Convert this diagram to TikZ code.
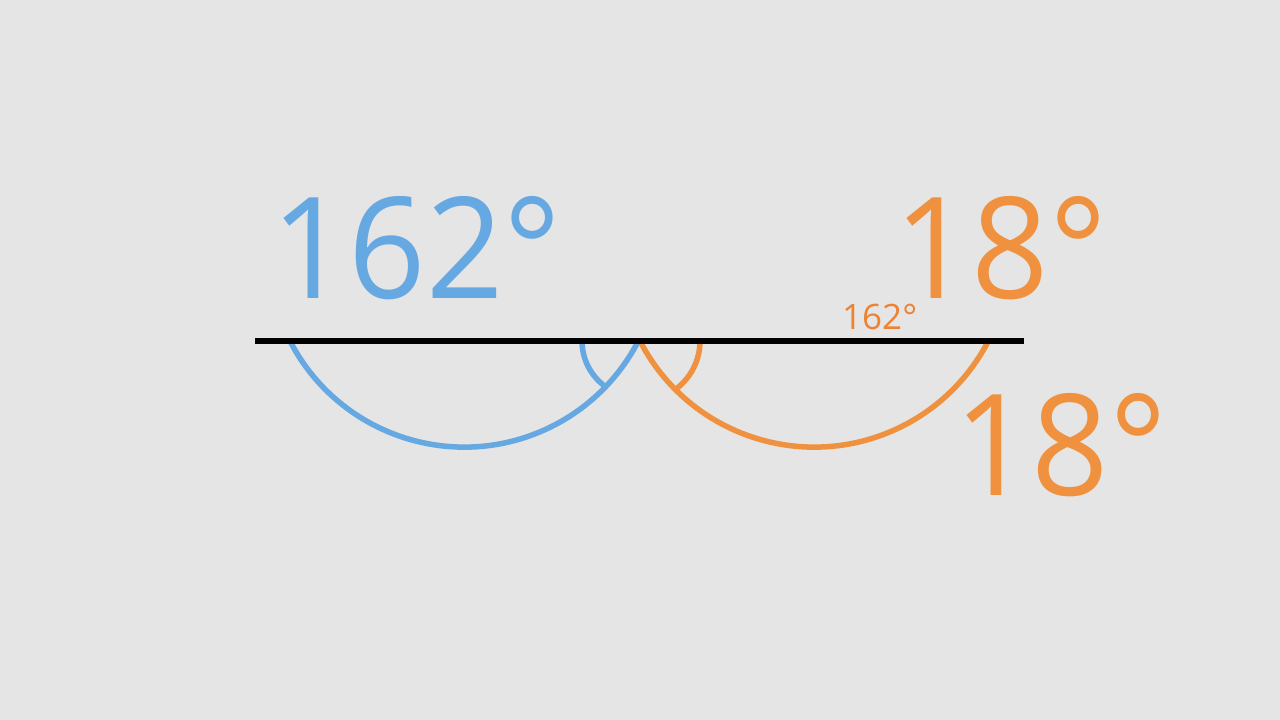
\documentclass[tikz,border=0pt]{standalone}
\usepackage{fontspec}
\setmainfont{Open Sans}
\definecolor{bg}{HTML}{E4E5E4}
\definecolor{blu}{HTML}{66A8E2}
\definecolor{org}{HTML}{F0913F}
\definecolor{org2}{HTML}{EC8232}
\tikzset{
  bigtxt/.style={inner sep=0pt, anchor=base west, xscale=0.96, font=\fontsize{141}{145}\selectfont},
  smalltxt/.style={inner sep=0pt, anchor=base west, font=\fontsize{35}{40}\selectfont},
  arcline/.style={line width=5.5pt}
}
\begin{document}
\begin{tikzpicture}[x=1pt,y=-1pt]
\fill[bg] (0,0) rectangle (1280,720);
\useasboundingbox (0,0) rectangle (1280,720);
% angle vertices
\coordinate (L) at (255,341);
\coordinate (R) at (1024,341);
\coordinate (V1) at (638,341);
\coordinate (V2) at (640,341);
\coordinate (A1) at (290,341);
\coordinate (A2) at (988,341);
% big arcs (circle radius 196)
\draw[arcline, blu] (A1) arc[start angle=-207.3, end angle=-332.7, radius=196];
\draw[arcline, org] (V2) arc[start angle=-207.3, end angle=-332.7, radius=196];
% small arcs
\draw[arcline, blu] (V1) ++(-56,0) arc[start angle=-180, end angle=-232, radius=56];
\draw[arcline, org] (V2) ++(60,0) arc[start angle=0, end angle=53, radius=60];
% base line
\draw[line width=6pt, black] (L) -- (R);
% labels
\node[bigtxt, text=blu] (t1) at (271,298) {162°};
\node[bigtxt, text=org] (t2) at (894,298) {18°};
\node[bigtxt, text=org] (t3) at (954,495) {18°};
\node[smalltxt, text=org2] (t4) at (842,329) {162°};
\end{tikzpicture}
\end{document}
